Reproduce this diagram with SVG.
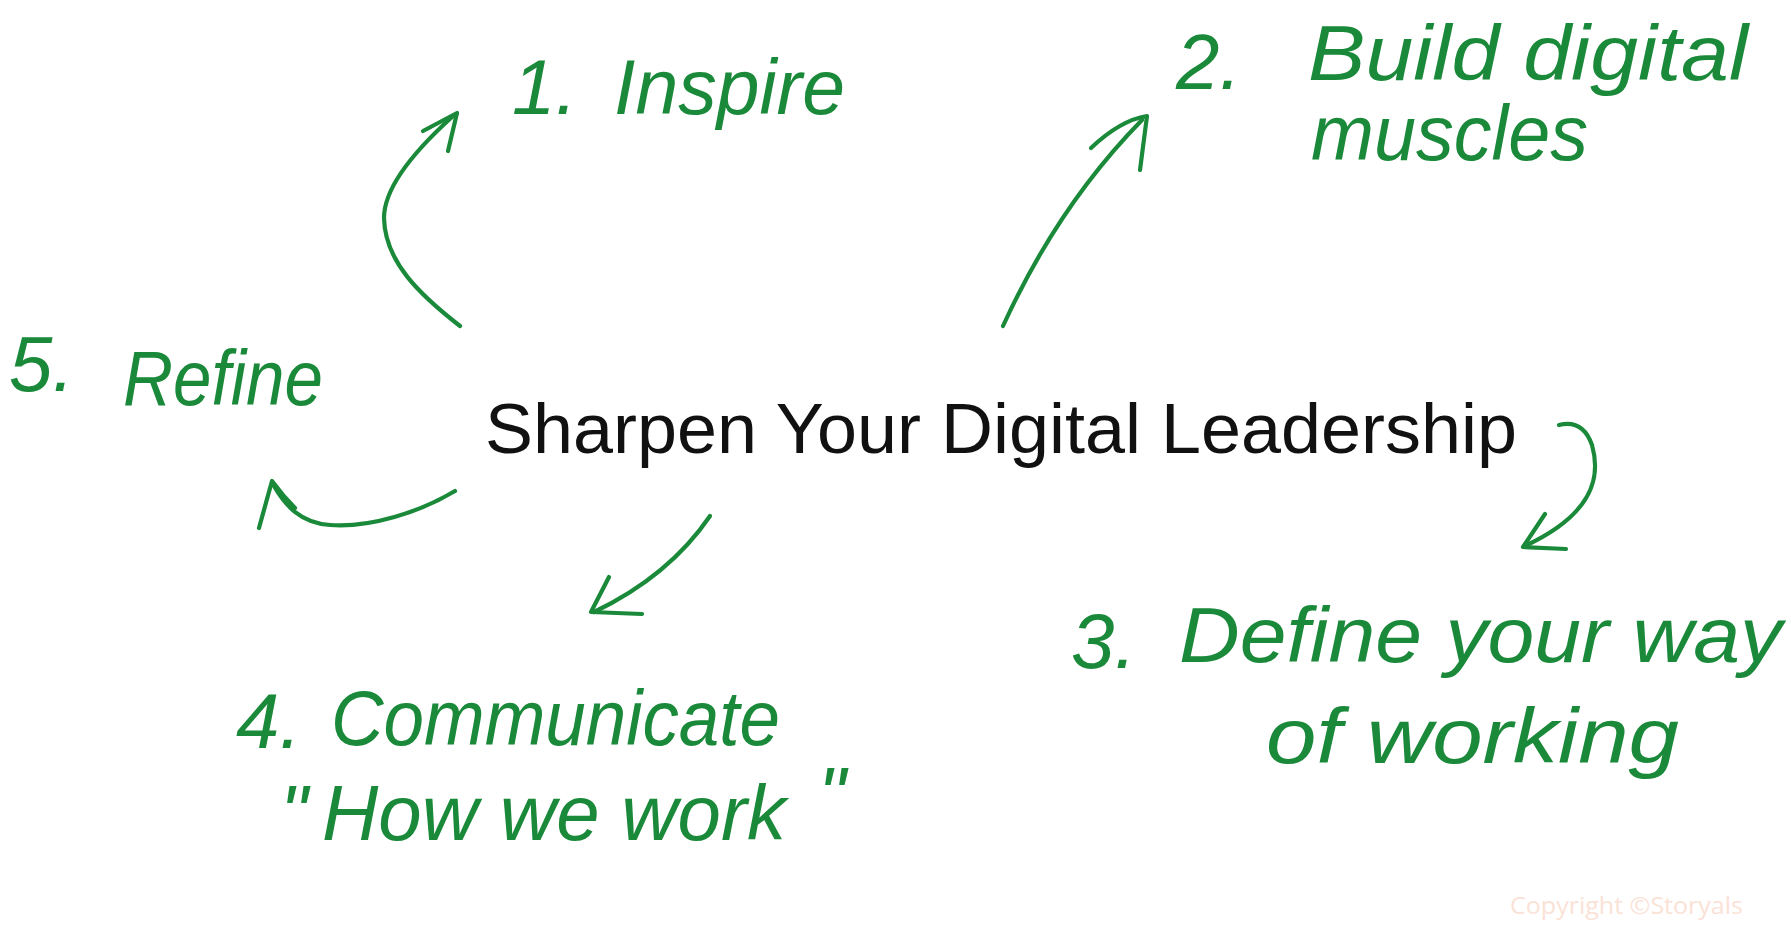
<svg xmlns="http://www.w3.org/2000/svg" width="1791" height="938" viewBox="0 0 1791 938">
<style>
.lbl{font-family:"Liberation Sans","DejaVu Sans",sans-serif;font-style:italic;font-size:78px;fill:#1a8a3a}
.title{font-family:"Liberation Sans","DejaVu Sans",sans-serif;font-size:70px;fill:#111}
.cp{font-family:"Open Sans","Noto Sans",sans-serif;font-size:24px;fill:#fbe2d6}
.ar{fill:none;stroke:#1a8a3a;stroke-width:4.2;stroke-linecap:round;stroke-linejoin:round}
</style>
<rect width="1791" height="938" fill="#fff"/>
<g id="connectors">
  <path class="ar" d="M460,326 C420,295 385,262 384,218 C384,190 410,155 452,117"/>
  <path class="ar" d="M423,131 L457,113 L448,151"/>
  <path class="ar" d="M1003,326 C1040,245 1085,178 1142,120"/>
  <path class="ar" d="M1091,148 C1110,130 1128,119 1147,116 L1140,170"/>
  <path class="ar" d="M1559,425 C1575,421 1586,428 1592,445 C1602,480 1590,515 1527,545"/>
  <path class="ar" d="M1545,514 L1523,547 L1566,549"/>
  <path class="ar" d="M710,516 C680,560 640,590 594,612"/>
  <path class="ar" d="M609,577 L591,612 L642,614"/>
  <path class="ar" d="M455,491 C420,512 370,528 330,525 C300,523 285,505 274,486"/>
  <path class="ar" d="M259,528 L272,481 C280,492 287,500 295,508"/>
</g>
<g id="center">
  <text class="title" x="485" y="453" textLength="1032" lengthAdjust="spacingAndGlyphs">Sharpen Your Digital Leadership</text>
</g>
<g id="step1">
  <text class="lbl"><tspan x="512" y="114">1.</tspan><tspan x="614" y="114" textLength="231" lengthAdjust="spacingAndGlyphs">Inspire</tspan></text>
</g>
<g id="step2">
  <text class="lbl"><tspan x="1176" y="89">2.</tspan><tspan x="1308" y="80" textLength="440" lengthAdjust="spacingAndGlyphs">Build digital</tspan></text>
  <text class="lbl" x="1311" y="160" textLength="277" lengthAdjust="spacingAndGlyphs">muscles</text>
</g>
<g id="step3">
  <text class="lbl"><tspan x="1071" y="668">3.</tspan><tspan x="1179" y="662" textLength="603" lengthAdjust="spacingAndGlyphs">Define your way</tspan></text>
  <text class="lbl" x="1266" y="763" textLength="413" lengthAdjust="spacingAndGlyphs">of working</text>
</g>
<g id="step4">
  <text class="lbl"><tspan x="236" y="748">4.</tspan><tspan x="331" y="745" textLength="449" lengthAdjust="spacingAndGlyphs">Communicate</tspan></text>
  <text class="lbl"><tspan x="280" y="840">"</tspan><tspan x="322" y="840" textLength="464" lengthAdjust="spacingAndGlyphs">How we work</tspan><tspan x="818" y="822">"</tspan></text>
</g>
<g id="step5">
  <text class="lbl"><tspan x="9" y="391">5.</tspan><tspan x="123" y="405" textLength="200" lengthAdjust="spacingAndGlyphs">Refine</tspan></text>
</g>
<g id="copyright">
  <text class="cp" x="1510" y="914" textLength="233" lengthAdjust="spacingAndGlyphs">Copyright ©Storyals</text>
</g>
</svg>
